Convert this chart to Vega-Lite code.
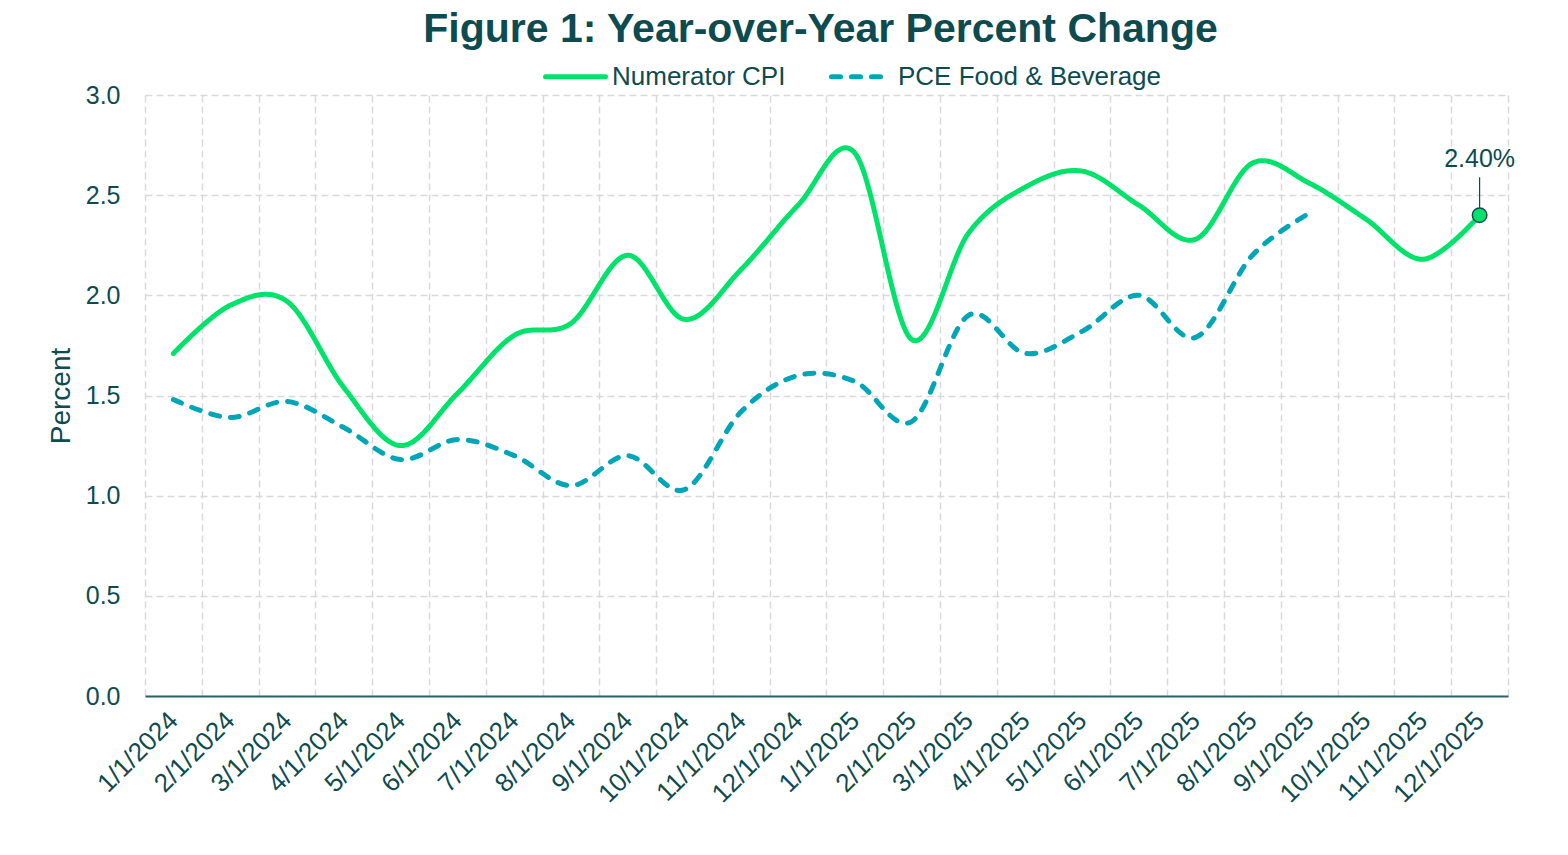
{
  "$schema": "https://vega.github.io/schema/vega-lite/v6.json",
  "width": 1363,
  "height": 601,
  "autosize": {"type": "none"},
  "padding": {"left": 145, "top": 95, "right": 60, "bottom": 159},
  "background": "white",
  "title": {
    "text": "Figure 1: Year-over-Year Percent Change",
    "font": "Liberation Sans",
    "fontSize": 41,
    "fontWeight": "bold",
    "color": "#0d4b50",
    "anchor": "middle",
    "offset": -7,
    "dx": -6
  },
  "data": {
    "values": [
      {"date": "1/1/2024", "series": "Numerator CPI", "value": 1.71},
      {"date": "2/1/2024", "series": "Numerator CPI", "value": 1.95},
      {"date": "3/1/2024", "series": "Numerator CPI", "value": 1.97},
      {"date": "4/1/2024", "series": "Numerator CPI", "value": 1.54},
      {"date": "5/1/2024", "series": "Numerator CPI", "value": 1.25},
      {"date": "6/1/2024", "series": "Numerator CPI", "value": 1.51},
      {"date": "7/1/2024", "series": "Numerator CPI", "value": 1.80},
      {"date": "8/1/2024", "series": "Numerator CPI", "value": 1.86},
      {"date": "9/1/2024", "series": "Numerator CPI", "value": 2.20},
      {"date": "10/1/2024", "series": "Numerator CPI", "value": 1.88},
      {"date": "11/1/2024", "series": "Numerator CPI", "value": 2.13},
      {"date": "12/1/2024", "series": "Numerator CPI", "value": 2.45},
      {"date": "1/1/2025", "series": "Numerator CPI", "value": 2.71},
      {"date": "2/1/2025", "series": "Numerator CPI", "value": 1.78},
      {"date": "3/1/2025", "series": "Numerator CPI", "value": 2.31},
      {"date": "4/1/2025", "series": "Numerator CPI", "value": 2.54},
      {"date": "5/1/2025", "series": "Numerator CPI", "value": 2.62},
      {"date": "6/1/2025", "series": "Numerator CPI", "value": 2.45},
      {"date": "7/1/2025", "series": "Numerator CPI", "value": 2.28},
      {"date": "8/1/2025", "series": "Numerator CPI", "value": 2.66},
      {"date": "9/1/2025", "series": "Numerator CPI", "value": 2.56},
      {"date": "10/1/2025", "series": "Numerator CPI", "value": 2.38},
      {"date": "11/1/2025", "series": "Numerator CPI", "value": 2.18},
      {"date": "12/1/2025", "series": "Numerator CPI", "value": 2.40, "note": "2.40%"},
      {"date": "1/1/2024", "series": "PCE Food & Beverage", "value": 1.48},
      {"date": "2/1/2024", "series": "PCE Food & Beverage", "value": 1.39},
      {"date": "3/1/2024", "series": "PCE Food & Beverage", "value": 1.47},
      {"date": "4/1/2024", "series": "PCE Food & Beverage", "value": 1.34},
      {"date": "5/1/2024", "series": "PCE Food & Beverage", "value": 1.18},
      {"date": "6/1/2024", "series": "PCE Food & Beverage", "value": 1.28},
      {"date": "7/1/2024", "series": "PCE Food & Beverage", "value": 1.20},
      {"date": "8/1/2024", "series": "PCE Food & Beverage", "value": 1.05},
      {"date": "9/1/2024", "series": "PCE Food & Beverage", "value": 1.20},
      {"date": "10/1/2024", "series": "PCE Food & Beverage", "value": 1.03},
      {"date": "11/1/2024", "series": "PCE Food & Beverage", "value": 1.42},
      {"date": "12/1/2024", "series": "PCE Food & Beverage", "value": 1.60},
      {"date": "1/1/2025", "series": "PCE Food & Beverage", "value": 1.57},
      {"date": "2/1/2025", "series": "PCE Food & Beverage", "value": 1.37},
      {"date": "3/1/2025", "series": "PCE Food & Beverage", "value": 1.90},
      {"date": "4/1/2025", "series": "PCE Food & Beverage", "value": 1.71},
      {"date": "5/1/2025", "series": "PCE Food & Beverage", "value": 1.82},
      {"date": "6/1/2025", "series": "PCE Food & Beverage", "value": 2.00},
      {"date": "7/1/2025", "series": "PCE Food & Beverage", "value": 1.79},
      {"date": "8/1/2025", "series": "PCE Food & Beverage", "value": 2.20},
      {"date": "9/1/2025", "series": "PCE Food & Beverage", "value": 2.41}
    ]
  },
  "encoding": {
    "x": {
      "field": "date",
      "type": "ordinal",
      "sort": null,
      "scale": {"type": "band", "paddingInner": 0, "paddingOuter": 0},
      "axis": {
        "title": null,
        "labelAngle": -45,
        "labelAlign": "right",
        "labelBaseline": "middle",
        "labelFontSize": 26,
        "labelColor": "#0d4b50",
        "labelPadding": 20,
        "labelOverlap": false,
        "labelBound": false,
        "ticks": false,
        "tickBand": "extent",
        "domain": true,
        "domainColor": "#2f6266",
        "domainWidth": 2,
        "grid": true,
        "gridColor": "#d9d9d9",
        "gridDash": [7, 4],
        "gridWidth": 1.5
      }
    },
    "y": {
      "field": "value",
      "type": "quantitative",
      "scale": {"domain": [0, 3], "nice": false},
      "axis": {
        "title": "Percent",
        "titleFontSize": 28,
        "titleFontWeight": "normal",
        "titleColor": "#0d4b50",
        "titlePadding": 10,
        "values": [0, 0.5, 1, 1.5, 2, 2.5, 3],
        "format": ".1f",
        "labelFontSize": 25,
        "labelColor": "#0d4b50",
        "labelPadding": 25,
        "ticks": false,
        "domain": false,
        "grid": true,
        "gridColor": "#d9d9d9",
        "gridDash": [7, 4],
        "gridWidth": 1.5
      }
    }
  },
  "layer": [
    {
      "mark": {"type": "line", "interpolate": "cardinal", "strokeWidth": 5, "strokeCap": "round"},
      "encoding": {
        "color": {
          "field": "series",
          "type": "nominal",
          "scale": {
            "domain": ["Numerator CPI", "PCE Food & Beverage"],
            "range": ["#00e36b", "#00a6b8"]
          },
          "legend": {
            "title": null,
            "orient": "none",
            "legendX": 398,
            "legendY": -51,
            "direction": "horizontal",
            "symbolType": "stroke",
            "symbolSize": 3600,
            "symbolStrokeWidth": 5,
            "labelFontSize": 26,
            "labelColor": "#0d4b50",
            "labelFont": "Liberation Sans",
            "labelLimit": 400,
            "labelOffset": 4,
            "columnPadding": 35,
            "padding": 0,
            "encode": {"symbols": {"update": {"strokeCap": {"value": "round"}}}}
          }
        },
        "strokeDash": {
          "field": "series",
          "type": "nominal",
          "scale": {
            "domain": ["Numerator CPI", "PCE Food & Beverage"],
            "range": [[1, 0], [9, 11]]
          },
          "legend": {
            "title": null,
            "orient": "none",
            "legendX": 398,
            "legendY": -51,
            "direction": "horizontal",
            "symbolType": "stroke",
            "symbolSize": 3600,
            "symbolStrokeWidth": 5,
            "labelFontSize": 26,
            "labelColor": "#0d4b50",
            "labelFont": "Liberation Sans",
            "labelLimit": 400,
            "labelOffset": 4,
            "columnPadding": 35,
            "padding": 0,
            "encode": {"symbols": {"update": {"strokeCap": {"value": "round"}}}}
          }
        }
      }
    },
    {
      "transform": [{"filter": "isValid(datum.note)"}],
      "mark": {"type": "rule", "color": "#0d4b50", "strokeWidth": 1.2},
      "encoding": {"y2": {"datum": 2.59}}
    },
    {
      "transform": [{"filter": "isValid(datum.note)"}],
      "mark": {
        "type": "circle",
        "size": 210,
        "opacity": 1,
        "fill": "#00e36b",
        "stroke": "#0d4b50",
        "strokeWidth": 1.5
      }
    },
    {
      "transform": [{"filter": "isValid(datum.note)"}],
      "mark": {
        "type": "text",
        "dy": -48,
        "baseline": "alphabetic",
        "fontSize": 25,
        "color": "#0d4b50"
      },
      "encoding": {"text": {"field": "note"}}
    }
  ],
  "config": {
    "font": "Liberation Sans",
    "view": {"stroke": null}
  }
}
